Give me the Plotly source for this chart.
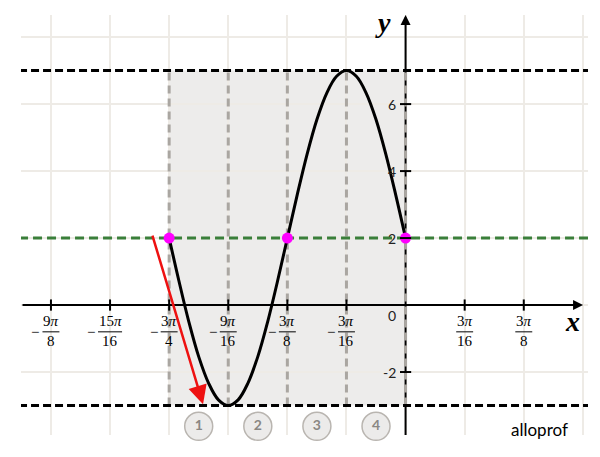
import plotly.graph_objects as go

# ---------------------------------------------------
# DATA  (x in units of pi/16)
# ---------------------------------------------------

curve_x = [-12, -11.5, -11, -10.5, -10, -9.5, -9, -8.5, -8, -7.5, -7, -6.5, -6,
           -5.5, -5, -4.5, -4, -3.5, -3, -2.5, -2, -1.5, -1, -0.5, 0]
curve_y = [2, 0.71, -0.5, -1.54, -2.33, -2.83, -3, -2.83, -2.33, -1.54, -0.5, 0.71, 2,
           3.29, 4.5, 5.54, 6.33, 6.83, 7, 6.83, 6.33, 5.54, 4.5, 3.29, 2]

point_x = [-12, -6, 0]
point_y = [2, 2, 2]

y_max = 7
y_min = -3
y_mid = 2

shade_x = [-12, 0]
cycle_x = [-12, -9, -6, -3, 0]
zone_x = [-10.5, -7.5, -4.5, -1.5]
zone_labels = ["1", "2", "3", "4"]

tick_x = [-18, -15, -12, -9, -6, -3, 3, 6]
tick_num = ["9", "15", "3", "9", "3", "3", "3", "3"]
tick_den = ["8", "16", "4", "16", "8", "16", "16", "8"]
tick_neg = [True, True, True, True, True, True, False, False]

grid_x = [-18, -15, -12, -9, -6, -3, 0, 3, 6, 9]
grid_y = [-2, 0, 2, 4, 6, 8]
ytick_vals = [-2, 2, 4, 6]
ytick_labels = ["-2", "2", "4", "6"]

arrow_start = (-12.87, 2.12)
arrow_end = (-10.28, -2.96)

x_range = [-19.52, 9.26]
y_range = [-3.88, 8.66]

SERIF = "Liberation Serif"
SANS = "Lato"

fig = go.Figure()


def line_trace(xs, ys, color, width, dash="solid"):
    return go.Scatter(x=xs, y=ys, mode="lines",
                      line=dict(color=color, width=width, dash=dash),
                      cliponaxis=False, hoverinfo="skip")


# ------------------------------------------------
# SHADED ZONE + GUIDE LINES
# ------------------------------------------------

fig.add_shape(type="rect", x0=shade_x[0], x1=shade_x[1], y0=y_min, y1=y_max,
              fillcolor="#edeceb", line_width=0, layer="below")

# y axis body
fig.add_trace(line_trace([0, 0], [y_range[0], y_max], "black", 2))

for cx in cycle_x:
    fig.add_trace(line_trace([cx, cx], [y_min, y_max], "#aaa6a1", 3, "8px,5px"))

full_x = [x_range[0] - 0.1, x_range[1]]
for yy in [y_max, y_min]:
    fig.add_trace(line_trace(full_x, [yy, yy], "black", 3, "8px,4px"))

fig.add_trace(line_trace(full_x, [y_mid, y_mid], "#3a7f3a", 3, "9px,5px"))

# ------------------------------------------------
# CURVE + POINTS
# ------------------------------------------------

fig.add_trace(go.Scatter(x=curve_x, y=curve_y, mode="lines",
                         line=dict(color="black", width=3, shape="spline"),
                         hoverinfo="skip"))

fig.add_trace(go.Scatter(x=point_x, y=point_y, mode="markers",
                         marker=dict(color="#ff00ff", size=11),
                         hoverinfo="skip"))

# axis tick marks
fig.add_trace(go.Scatter(x=tick_x, y=[0] * len(tick_x), mode="markers",
                         marker=dict(symbol="line-ns", size=8,
                                     line=dict(color="black", width=2)),
                         hoverinfo="skip"))
fig.add_trace(go.Scatter(x=[0] * len(ytick_vals), y=ytick_vals, mode="markers",
                         marker=dict(symbol="line-ew", size=8,
                                     line=dict(color="black", width=2)),
                         hoverinfo="skip"))

# circled zone numbers
fig.add_trace(go.Scatter(x=zone_x, y=[-3.62] * len(zone_x), mode="markers+text",
                         text=["<b>" + z + "</b>" for z in zone_labels],
                         textposition="middle center",
                         textfont=dict(family=SANS, size=14, color="#8a8783"),
                         marker=dict(size=28, color="#ecebea",
                                     line=dict(color="#b9b5b0", width=1.5)),
                         cliponaxis=False, hoverinfo="skip"))

# ------------------------------------------------
# AXES ARROWS + LABELS
# ------------------------------------------------

ann = []

ann.append(dict(x=9.01, y=0, ax=x_range[0], ay=0, xref="x", yref="y",
                axref="x", ayref="y", text="", showarrow=True,
                arrowhead=2, arrowsize=1, arrowwidth=2, arrowcolor="black"))
ann.append(dict(x=0, y=y_range[1], ax=0, ay=y_max, xref="x", yref="y",
                axref="x", ayref="y", text="", showarrow=True,
                arrowhead=2, arrowsize=1, arrowwidth=2, arrowcolor="black"))

ann.append(dict(x=8.45, y=-0.5, text="<i><b>x</b></i>", showarrow=False,
                font=dict(family=SERIF, size=28, color="black")))
ann.append(dict(x=-1.15, y=8.45, text="<i><b>y</b></i>", showarrow=False,
                font=dict(family=SERIF, size=28, color="black")))

# red arrow
ann.append(dict(x=arrow_end[0], y=arrow_end[1], ax=arrow_start[0], ay=arrow_start[1],
                xref="x", yref="y", axref="x", ayref="y", text="",
                showarrow=True, arrowhead=2, arrowsize=1.5, arrowwidth=2.5,
                arrowcolor="#ee1111"))

# fraction tick labels
for tx, num, den, neg in zip(tick_x, tick_num, tick_den, tick_neg):
    half = 0.61 if len(num) > 1 else 0.43
    ann.append(dict(x=tx, y=-0.48, text=num + "<i>π</i>", showarrow=False,
                    font=dict(family=SERIF, size=15, color="black")))
    ann.append(dict(x=tx, y=-1.06, text=den, showarrow=False,
                    font=dict(family=SERIF, size=15, color="black")))
    fig.add_shape(type="line", x0=tx - half, x1=tx + half, y0=-0.8, y1=-0.8,
                  line=dict(color="black", width=1))
    if neg:
        ann.append(dict(x=tx - half, y=-0.8, xanchor="right", xshift=-1,
                        text="−", showarrow=False,
                        font=dict(family=SERIF, size=15, color="black")))

# y tick labels
for yv, lab in zip(ytick_vals, ytick_labels):
    ann.append(dict(x=0, y=yv, xanchor="right", xshift=-8, text=lab,
                    showarrow=False,
                    font=dict(family=SANS, size=14, color="#222222")))
ann.append(dict(x=0, y=0, xanchor="right", xshift=-8, yshift=-10, text="0",
                showarrow=False, font=dict(family=SANS, size=14, color="#222222")))

# logo
ann.append(dict(xref="paper", yref="paper", x=0.915, y=0.012, xanchor="center",
                yanchor="middle", text="alloprof", showarrow=False,
                font=dict(family=SANS, size=17, color="black")))

# ------------------------------------------------
# LAYOUT
# ------------------------------------------------

fig.update_layout(
    width=600,
    height=457,
    showlegend=False,
    plot_bgcolor="white",
    paper_bgcolor="white",
    annotations=ann,
    margin=dict(l=21, r=12, t=15, b=22)
)

fig.update_xaxes(range=x_range, tickvals=grid_x, showticklabels=False,
                 showgrid=True, gridcolor="#eeebe6", gridwidth=1.5,
                 zeroline=False, showline=False, fixedrange=True)
fig.update_yaxes(range=y_range, tickvals=grid_y, showticklabels=False,
                 showgrid=True, gridcolor="#eeebe6", gridwidth=1.5,
                 zeroline=False, showline=False, fixedrange=True)

fig.write_html("out.html", config={"displayModeBar": False},
               post_script="document.body.style.margin='0px';")
